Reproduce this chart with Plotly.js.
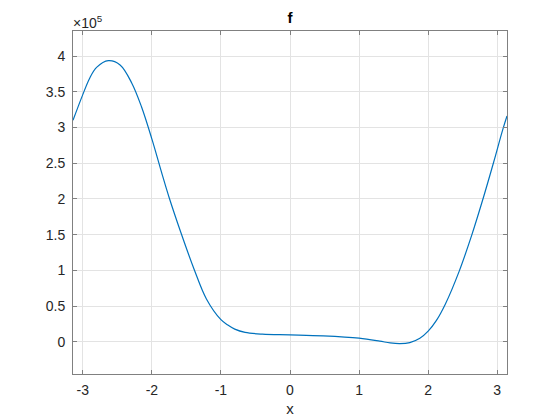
<!DOCTYPE html>
<html>
<head>
<meta charset="utf-8">
<script src="https://cdn.plot.ly/plotly-3.0.1.min.js"></script>
<style>html,body{margin:0;padding:0;background:#fff;}#chart{width:560px;height:420px;}</style>
</head>
<body>
<div id="chart"></div>
<script>
const xValues = [-3.1416, -3.0, -2.9, -2.8, -2.63, -2.46, -2.29, -2.15, -2.0, -1.85, -1.75, -1.58, -1.39, -1.21, -1.0, -0.9, -0.8, -0.65, -0.4, 0, 0.48, 1.0, 1.30, 1.45, 1.59, 1.735, 1.88, 2.0, 2.12, 2.25, 2.45, 2.63, 2.8, 2.95, 3.08, 3.1416];
const fValues = [310000, 346000, 369000, 384000, 393500, 387500, 362000, 329000, 284000, 234000, 202000, 153000, 102000, 60000, 31000, 23500, 17800, 13200, 10800, 9800, 8400, 5200, 1000, -1500, -2500, -1000, 5000, 15000, 30000, 53000, 99000, 149000, 202000, 252000, 297000, 316000];
const xTicks = [-3, -2, -1, 0, 1, 2, 3];
const yTicks = [0, 50000, 100000, 150000, 200000, 250000, 300000, 350000, 400000];
const yTickText = ['0', '0.5', '1', '1.5', '2', '2.5', '3', '3.5', '4'];
const titleText = 'f';
const xLabel = 'x';

const fam = 'Liberation Sans, Arial, sans-serif';
const font = {family: fam, size: 14, color: '#262626'};
const axisCommon = {
  showline: true, linecolor: '#808080', linewidth: 1, mirror: 'ticks',
  ticks: 'inside', ticklen: 4, tickwidth: 1, tickcolor: '#808080',
  showgrid: true, gridcolor: '#e3e3e3', gridwidth: 1, zeroline: false,
  tickfont: font
};
Plotly.newPlot('chart', [{
  x: xValues, y: fValues, type: 'scatter', mode: 'lines',
  line: {color: '#0072BD', width: 1.2, shape: 'spline', smoothing: 1}
}], {
  width: 560, height: 420,
  margin: {l: 73, r: 53, t: 31, b: 46},
  paper_bgcolor: '#fff', plot_bgcolor: '#fff',
  showlegend: false,
  font: font,
  title: {text: '<b>' + titleText + '</b>', x: 0.518, xanchor: 'center', y: 0.957, yanchor: 'middle', font: {family: fam, size: 15, color: '#000'}},
  xaxis: Object.assign({}, axisCommon, {range: [-Math.PI, Math.PI], tickvals: xTicks, ticktext: xTicks.map(String), ticklabelstandoff: 3,
    title: {text: xLabel, font: {family: fam, size: 15, color: '#262626'}, standoff: 6}}),
  yaxis: Object.assign({}, axisCommon, {range: [-45000, 435000], tickvals: yTicks, ticktext: yTickText, ticklabelstandoff: 4}),
  annotations: [{
    xref: 'paper', yref: 'paper', x: 0, y: 1, xanchor: 'left', yanchor: 'bottom', yshift: -2, xshift: -2,
    text: '×10<sup>5</sup>', showarrow: false, font: {family: fam, size: 14, color: '#262626'}
  }]
}, {displayModeBar: false, staticPlot: true});
</script>
</body>
</html>
